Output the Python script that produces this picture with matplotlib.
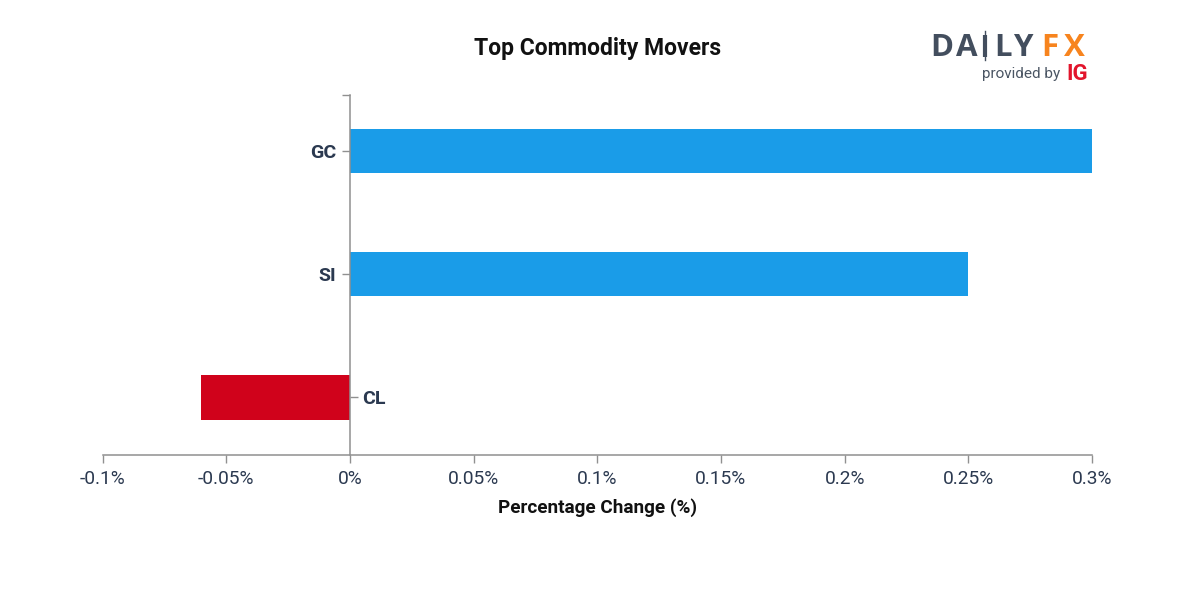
#!/usr/bin/env python3
import matplotlib
matplotlib.use("Agg")
import matplotlib.lines as mlines
import matplotlib.pyplot as plt

# data, bottom to top
symbols = ["CL", "SI", "GC"]
changes = [-0.06, 0.25, 0.3]
x_ticks = [-0.1, -0.05, 0, 0.05, 0.1, 0.15, 0.2, 0.25, 0.3]
x_tick_labels = ["-0.1%", "-0.05%", "0%", "0.05%", "0.1%", "0.15%", "0.2%", "0.25%", "0.3%"]

BLUE = "#1a9ce8"
RED = "#d0021b"
TEXT = "#2b3950"
AXIS = "#909090"

plt.rcParams["font.family"] = ["Roboto", "DejaVu Sans"]

fig = plt.figure(figsize=(12, 6), dpi=100)
ax = fig.add_axes([102.5 / 1200, 145 / 600, 989.5 / 1200, 360 / 600])

colors = [BLUE if v >= 0 else RED for v in changes]
ax.barh(range(len(symbols)), changes, height=0.362, color=colors, zorder=1)

ax.set_xlim(-0.1, 0.3)
ax.set_ylim(-0.468, 2.455)

for side in ["top", "right"]:
    ax.spines[side].set_visible(False)
ax.spines["left"].set_position(("data", 0))
ax.spines["left"].set_color(AXIS)
ax.spines["left"].set_linewidth(1.1)
ax.spines["left"].set_zorder(3)
ax.spines["bottom"].set_color(AXIS)
ax.spines["bottom"].set_linewidth(1.1)

ax.set_xticks(x_ticks)
ax.set_xticklabels(x_tick_labels, fontsize=13.8, color=TEXT)
ax.set_yticks(range(len(symbols)))
ax.set_yticklabels(symbols, fontsize=14, fontweight="bold", color=TEXT)
ax.set_yticks([2.455], minor=True)
ax.tick_params(axis="both", which="both", length=5.5, width=1, color=AXIS)
ax.tick_params(axis="x", pad=5)
ax.tick_params(axis="y", pad=4.5)
ax.set_xlabel("Percentage Change (%)", fontsize=13.6,
              fontweight="bold", color="#111111", labelpad=7.5)

# negative bars get their label on the other side of the zero line
for tick, value, name in zip(ax.yaxis.get_major_ticks(), changes, symbols):
    if value < 0:
        tick.tick1line.set_marker(mlines.TICKRIGHT)
        tick.label1.set_visible(False)
        ax.annotate(name, (0, symbols.index(name)), xytext=(9, -1),
                    textcoords="offset points", ha="left", va="center",
                    fontsize=14, fontweight="bold", color=TEXT)

fig.text(597.5 / 1200, 1 - 49 / 600, "Top Commodity Movers", ha="center", va="center",
         fontsize=16.5, fontweight="bold", color="#111111")

# logo
logo_grey = "#434e5e"
logo_orange = "#f7841e"
for letter, px, col in [("D", 942, logo_grey), ("A", 967, logo_grey), ("L", 1003, logo_grey),
                        ("Y", 1023, logo_grey), ("F", 1050, logo_orange), ("X", 1074, logo_orange)]:
    fig.text(px / 1200, 1 - 47.5 / 600, letter, ha="center", va="center", fontsize=22.5,
             fontweight="bold", family=["Open Sans", "DejaVu Sans"], color=col)
fig.add_artist(mlines.Line2D([985 / 1200] * 2, [1 - 35 / 600, 1 - 57 / 600],
                             color=logo_grey, lw=3, solid_capstyle="butt"))
fig.add_artist(mlines.Line2D([985 / 1200] * 2, [1 - 31 / 600, 1 - 60 / 600],
                             color=logo_grey, lw=1))
fig.text(1021 / 1200, 1 - 74 / 600, "provided by", ha="center", va="center",
         fontsize=11, color="#4a5563")
fig.text(1077 / 1200, 1 - 74 / 600, "IG", ha="center", va="center", fontsize=16,
         fontweight="bold", color="#e2152c")

fig.savefig("out.png", dpi=100, facecolor="white")
